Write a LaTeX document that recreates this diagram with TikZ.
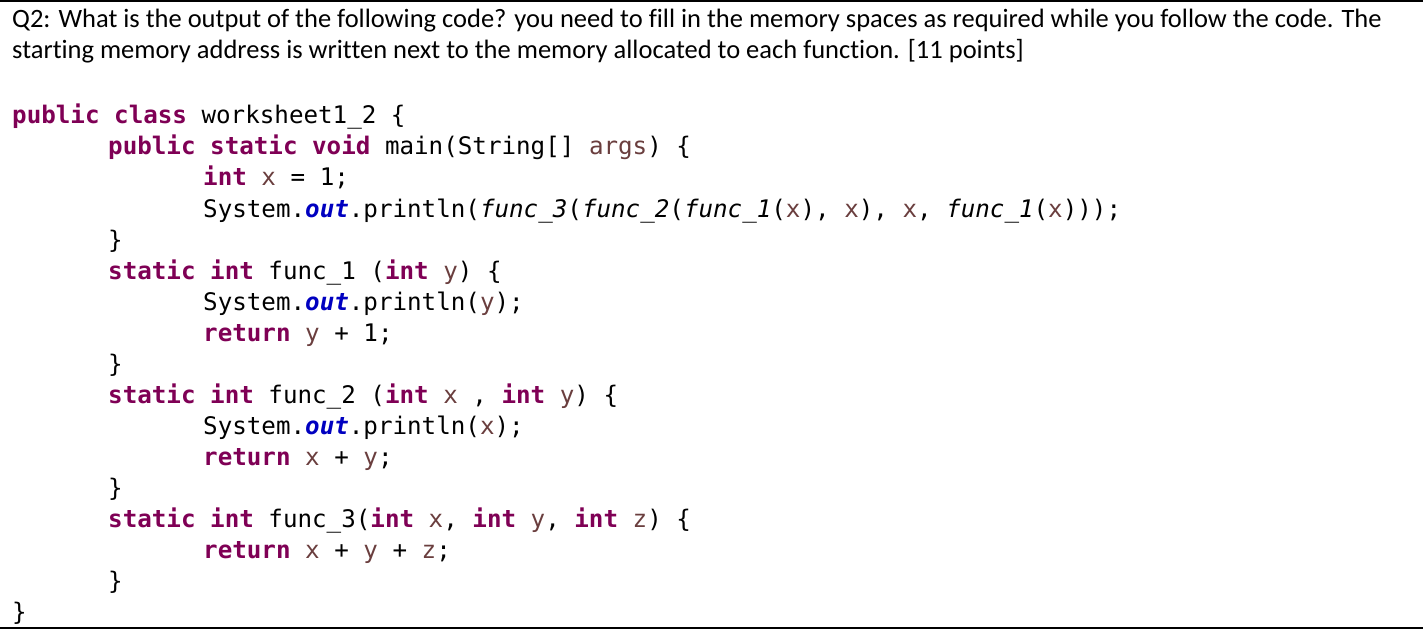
\documentclass[tikz,border=0pt]{standalone}
\usepackage{fontspec}
\setmainfont[Ligatures=CommonOff]{Carlito}
\setmonofont{DejaVu Sans Mono}
\definecolor{kw}{HTML}{7F0055}
\definecolor{vr}{HTML}{6A3E3E}
\definecolor{fl}{HTML}{0000C0}
\newcommand{\kw}[1]{\textcolor{kw}{\textbf{#1}}}
\newcommand{\vr}[1]{\textcolor{vr}{#1}}
\newcommand{\fo}{\textcolor{fl}{\textbf{\textit{out}}}}
\newcommand{\fn}[1]{\textit{#1}}
\begin{document}
\begin{tikzpicture}[x=1pt,y=1pt,
  head/.style={anchor=base west,inner sep=0pt,font=\fontsize{26.5}{30}\selectfont},
  code/.style={anchor=base west,inner sep=0pt,font=\ttfamily\fontsize{24.2}{30}\selectfont}]
\useasboundingbox (0,0) rectangle (1423,633);
\draw[line width=1.2pt] (0,632) coordinate (tl) -- (1423,632) coordinate (tr);
\draw[line width=1.2pt] (0,5) coordinate (bl) -- (1423,5) coordinate (br);
\node[head] (h1) at (12,605) {Q2: What is the output of the following code? you need to fill in the memory spaces as required while you follow the code. The};
\node[head] (h2) at (12,574) {starting memory address is written next to the memory allocated to each function. [11 points]};
\node[code] (l1) at (12,509) {\kw{public} \kw{class} worksheet1\_2 \{};
\node[code] (l2) at (108,478) {\kw{public} \kw{static} \kw{void} main(String[] \vr{args}) \{};
\node[code] (l3) at (203,447) {\kw{int} \vr{x} = 1;};
\node[code] (l4) at (203,416) {System.\fo.println(\fn{func\_3}(\fn{func\_2}(\fn{func\_1}(\vr{x}), \vr{x}), \vr{x}, \fn{func\_1}(\vr{x})));};
\node[code] (l5) at (108,385) {\}};
\node[code] (l6) at (108,354) {\kw{static} \kw{int} func\_1 (\kw{int} \vr{y}) \{};
\node[code] (l7) at (203,323) {System.\fo.println(\vr{y});};
\node[code] (l8) at (203,292) {\kw{return} \vr{y} + 1;};
\node[code] (l9) at (108,261) {\}};
\node[code] (l10) at (108,230) {\kw{static} \kw{int} func\_2 (\kw{int} \vr{x} , \kw{int} \vr{y}) \{};
\node[code] (l11) at (203,199) {System.\fo.println(\vr{x});};
\node[code] (l12) at (203,168) {\kw{return} \vr{x} + \vr{y};};
\node[code] (l13) at (108,137) {\}};
\node[code] (l14) at (108,106) {\kw{static} \kw{int} func\_3(\kw{int} \vr{x}, \kw{int} \vr{y}, \kw{int} \vr{z}) \{};
\node[code] (l15) at (203,75) {\kw{return} \vr{x} + \vr{y} + \vr{z};};
\node[code] (l16) at (108,44) {\}};
\node[code] (l17) at (12,13) {\}};
\end{tikzpicture}
\end{document}
